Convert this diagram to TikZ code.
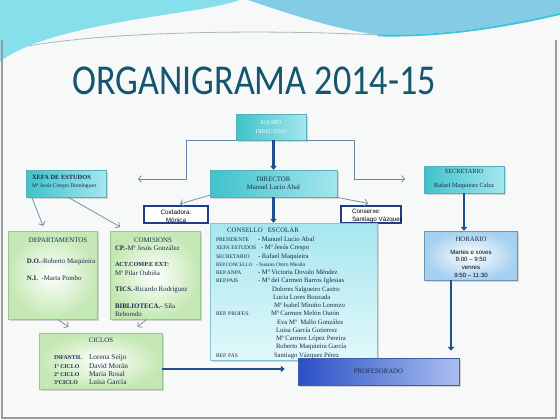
\documentclass[tikz,border=0pt]{standalone}
\usepackage{fontspec}
\setmainfont{Liberation Serif}
\newfontfamily\sansf{Liberation Sans}
\newfontfamily\titlef{Carlito}
\usetikzlibrary{shadows,arrows.meta}
\definecolor{bgc}{HTML}{F7F8F8}
\definecolor{framec}{HTML}{9A9A9A}
\definecolor{wcyan}{HTML}{86E0EB}
\definecolor{wblue}{HTML}{84CBE6}
\definecolor{wline}{HTML}{3FC3DA}
\definecolor{wgray}{HTML}{A7B7BE}
\definecolor{titlec}{HTML}{145570}
\definecolor{cyA}{HTML}{3FC2CB}
\definecolor{cyB}{HTML}{A4E7EC}
\definecolor{cyD}{HTML}{5AAFBC}
\definecolor{navy}{HTML}{1B2A48}
\definecolor{thickc}{HTML}{1F4F8D}
\definecolor{thinc}{HTML}{6687A6}
\definecolor{grO}{HTML}{C4E8B3}
\definecolor{grD}{HTML}{9BC39A}
\definecolor{blO}{HTML}{A6D0F0}
\definecolor{blD}{HTML}{6E95B5}
\definecolor{prA}{HTML}{2A4FC6}
\definecolor{prB}{HTML}{AABFEF}
\definecolor{prD}{HTML}{3E5FA8}
\definecolor{coA}{HTML}{A6E6EE}
\definecolor{coB}{HTML}{E2F8FA}
\definecolor{coD}{HTML}{7FC6D2}
\definecolor{whbox}{HTML}{1F3E86}
\newcommand\fsz[2]{\fontsize{#1}{#2}\selectfont}
\tikzset{
 shad/.style={drop shadow={opacity=0.3,shadow xshift=1.5pt,shadow yshift=-1.5pt}},
 cybox/.style={shad, draw=cyD, line width=0.4pt, left color=cyA, right color=cyB, inner sep=0, align=center, text=navy},
 grbox/.style={shad, draw=grD, line width=0.5pt, inner color=white, outer color=grO, inner sep=0},
 hobox/.style={shad, draw=blD, line width=0.5pt, inner color=white, outer color=blO, inner sep=0},
 cobox/.style={shad, draw=coD, line width=0.5pt, top color=coA, bottom color=coB, inner sep=0},
 prbox/.style={shad, draw=prD, line width=0.5pt, left color=prA, right color=prB, inner sep=0, text=navy},
 whitebox/.style={draw=whbox, line width=1.2pt, fill=white, inner sep=0},
 lbl/.style={inner sep=0, outer sep=0, text=navy},
 conn/.style={draw=thinc, line width=0.7pt, -{Straight Barb[length=3pt,width=7pt]}},
 big/.style={draw=thickc, line width=2.8pt, -{Triangle[length=4pt,width=6.5pt]}},
}
\begin{document}
\begin{tikzpicture}[x=1pt,y=-1pt]
\useasboundingbox (0,0) rectangle (560,420);
\fill[bgc] (0,0) rectangle (560,420);
% top wave
\fill[wcyan] (0,0) -- (240,0) .. controls (200,14) and (100,18) .. (28,46) .. controls (15,52) and (5,57) .. (0,62) -- cycle;
\fill[wblue] (248,0) -- (560,0) -- (560,14) .. controls (500,28) and (430,36) .. (378,35) .. controls (330,28) and (290,14) .. (248,0) -- cycle;
\draw[wgray, line width=0.8pt] (28,46) .. controls (120,30) and (280,30) .. (378,35);
\draw[wline, line width=1.8pt] (378,35.5) .. controls (440,37) and (500,28) .. (560,14);
\draw[framec, line width=1.2pt] (2,40) -- (2,418) -- (556,418) -- (556,40);
% title
\node[inner sep=0, text=titlec] (title) at (254,81) {\scalebox{0.85}[1]{\titlef\fsz{42.5}{42}ORGANIGRAMA 2014-15}};
% top row
\node[cybox, minimum width=70pt, minimum height=26pt, text=white, font=\fsz{5.6}{9}] (EQUIPO) at (271,127) {EQUIPO\\DIRECTIVO};
\node[cybox, minimum width=80pt, minimum height=27pt] (XEFA) at (66,183.5) {};
\node[lbl, anchor=west, align=left, font=\fsz{5.6}{8}] (XEFAt) at (32,182) {{\bfseries\fsz{6.4}{8}XEFA DE ESTUDOS}\\Mª Jesús Crespo Domínguez};
\node[cybox, minimum width=127pt, minimum height=27pt, font=\fsz{6.8}{8}] (DIRECTOR) at (273.5,183.5) {DIRECTOR\\Manuel Lucio Abal};
\node[cybox, minimum width=80pt, minimum height=27pt, font=\fsz{6.3}{14}] (SECRETARIO) at (464,179.5) {SECRETARIO\\Rafael Maquieira Calza};
% small white boxes
\node[whitebox, minimum width=64pt, minimum height=17pt] (COID) at (176,214.5) {};
\node[lbl, text=black, align=center, font=\sansf\fsz{6.3}{8}] (COIDt) at (176,216) {Coidadora:\\Mónica};
\node[whitebox, minimum width=60pt, minimum height=17pt] (CONS) at (371,214.5) {};
\begin{scope}
\clip ([yshift=8pt]CONS.north west) rectangle ([yshift=-8pt]CONS.south east);
\node[lbl, text=black, anchor=west, align=left, font=\sansf\fsz{6.3}{8}] (CONSt) at (352,216) {Conserxe:\\Santiago Vázquez};
\end{scope}
% consello
\node[cobox, minimum width=167pt, minimum height=137pt] (CONSE) at (293.5,291.5) {};
\node[lbl, font=\fsz{6.8}{8}] (CONSEt) at (263,230) {CONSELLO\ \ \ ESCOLAR};
\foreach \y/\t [count=\i] in {239/PRESIDENTE, 247/XEFA ESTUDOS, 256/SECRETARIO, 264/{{\fsz{5}{7}REP.CONCELLO}}, 272/REP.ANPA, 280/REP.PAIS, 313/REP. PROFES., 355/REP. PAS}
  \node[lbl, anchor=base west, font=\fsz{5.5}{7}] (cl\i) at (216,\y+2) {\t};
\foreach \x/\y/\t [count=\i] in {258/239/{- Manuel Lucio Abal}, 261/247/{- Mª Jesús Crespo}, 258/256/{- Rafael Maquieira}, 256/264/{{\fsz{5.5}{7}- Susana Otero Meaño}}, 258/272/{- Mª Victoria Dovalo Méndez}, 258/280/{- Mª del Carmen Barros Iglesias}, 272/289/{Dolores Salgueiro Castro}, 273/297/{Lucia Lores Bouzada}, 274/305/{Mª Isabel Miniño Lorenzo}, 271/313/{Mª Carmen Melón Outón}, 277/322/{Eva Mª\ \ Mallo González}, 276/330/{Luisa García Gutierrez}, 276/338/{Mª Carmen López Pereira}, 276/346/{Roberto Maquieira García}, 274/355/{Santiago Vázquez Pérez}}
  \node[lbl, anchor=base west, font=\fsz{6.7}{7}] (cr\i) at (\x,\y+2) {\t};
% green boxes
\node[grbox, minimum width=89pt, minimum height=88pt] (DEP) at (52.5,275) {};
\node[lbl, font=\fsz{6.9}{8}] (DEPt) at (58,240) {DEPARTAMENTOS};
\node[lbl, anchor=base west, font=\fsz{6.9}{8}] (DEP1) at (27,263) {\textbf{D.O.}-Roberto Maquieira};
\node[lbl, anchor=base west, font=\fsz{6.9}{8}] (DEP2) at (27,280) {\textbf{N.I.}\ \ -Marta Pombo};
\node[grbox, minimum width=90pt, minimum height=88pt] (COM) at (155,275) {};
\node[lbl, font=\fsz{6.9}{8}] (COMt) at (153,240) {COMISIONS};
\node[lbl, anchor=base west, font=\fsz{6.9}{8}] (COM1) at (115,250) {\textbf{CP.-}Mª Jesús González};
\node[lbl, anchor=base west, font=\fsz{6.2}{8}] (COM2) at (115,266) {\textbf{ACT.COMP.E EXT:}};
\node[lbl, anchor=base west, font=\fsz{6.9}{8}] (COM3) at (115,275) {Mª Pilar Oubiña};
\node[lbl, anchor=base west, font=\fsz{6.9}{8}] (COM4) at (115,291) {\textbf{TICS.}-Ricardo Rodríguez};
\node[lbl, anchor=base west, font=\fsz{6.9}{8}] (COM5) at (115,308) {\textbf{BIBLIOTECA.-} Sila};
\node[lbl, anchor=base west, font=\fsz{6.9}{8}] (COM6) at (115,316) {Reboredo};
\node[grbox, minimum width=123pt, minimum height=56pt] (CICLOS) at (100.5,361) {};
\node[lbl, font=\fsz{6.8}{8}] (CICt) at (101,340) {CICLOS};
\foreach \y/\a/\b [count=\i] in {357/INFANTIL/Lorena Seijo, 366/1º CICLO/David Morán, 374/2º CICLO/María Rosal, 382/3ºCICLO/Luisa García}{
  \node[lbl, anchor=base west, font=\bfseries\fsz{5.8}{7}] (ca\i) at (54,\y+2) {\a};
  \node[lbl, anchor=base west, font=\fsz{7.3}{7}] (cb\i) at (89,\y+2) {\b};
}
% horario
\node[hobox, minimum width=93pt, minimum height=49pt] (HOR) at (470.5,255.5) {};
\node[lbl, font=\fsz{6.8}{8}] (HORt) at (471,239) {HORARIO};
\node[lbl, align=center, text=black, font=\sansf\fsz{6.1}{7.7}] (HORs) at (471,263.5) {Martes e xoves\\9:00 – 9:50\\venres\\9:50 – 11:30};
% profesorado
\node[prbox, minimum width=161pt, minimum height=27pt, font=\fsz{6.8}{8}] (PROF) at (378.5,371.5) {PROFESORADO};
% connectors
\coordinate (xl) at (138,179);
\coordinate (xr) at (405,179);
\draw[conn] (EQUIPO.south west) -- ++(-49,0) |- (xl);
\draw[conn] (EQUIPO.south east) -- ++(48,0) |- (xr);
\draw[conn] ([xshift=6pt]XEFA.south west) -- ([xshift=-9.5pt,yshift=5pt]DEP.north);
\draw[conn] ([xshift=2pt]XEFA.south) -- ([xshift=-35pt,yshift=4pt]COM.north);
\draw[conn] ([xshift=5pt]DEP.south) -- ([xshift=-32pt,yshift=6pt]CICLOS.north);
\draw[conn] ([xshift=-8pt]COM.south) -- ([xshift=37pt,yshift=6pt]CICLOS.north);
\draw[conn] ([yshift=2pt]DIRECTOR.south west) -- ([xshift=4pt,yshift=1.5pt]COID.north);
\draw[conn] ([xshift=-1pt]DIRECTOR.south east) -- ([xshift=-3pt,yshift=2pt]CONS.north);
\draw[big] (DIRECTOR.north |- EQUIPO.south) -- (DIRECTOR.north);
\draw[big] (DIRECTOR.south) -- (DIRECTOR.south |- CONSE.north);
\draw[big] (SECRETARIO.south) -- (SECRETARIO.south |- HOR.north);
\draw[big, shorten >=7pt] ([xshift=-19.5pt]HOR.south) -- ([xshift=-19.5pt]HOR.south |- PROF.north);
\draw[big, shorten >=13pt] ([yshift=-8pt]CICLOS.east) -- ([yshift=-8pt]CICLOS.east -| PROF.west);
\end{tikzpicture}
\end{document}
